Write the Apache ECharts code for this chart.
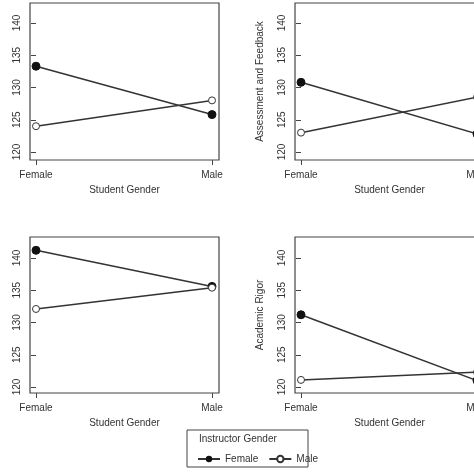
<!DOCTYPE html><html><head><meta charset="utf-8"><script src="https://cdn.jsdelivr.net/npm/echarts@6/dist/echarts.min.js"></script>
<style>html,body{margin:0;padding:0;background:#fff}#c{width:474px;height:474px}</style></head><body><div id="c"></div><script>
const studentGender=['Female','Male'];
const yTicks=[120,125,130,135,140];
const panelTitles=['','Assessment and Feedback','','Academic Rigor'];
const femaleInstr=[[133.3,125.8],[130.8,122.8],[141.2,135.6],[131.2,121.0]];
const maleInstr=[[124.0,128.0],[123.0,128.5],[132.1,135.4],[121.1,122.3]];
const pos=[[30,3,157],[295,3,157],[30,237,156],[295,237,156]];
const grids=[],xAxes=[],yAxes=[],series=[];
const font='Liberation Sans';
pos.forEach((p,i)=>{
 grids.push({left:p[0],top:p[1],width:189,height:p[2],show:true,borderColor:'#444',borderWidth:1.2,backgroundColor:'transparent',outerBoundsMode:'none',containLabel:false});
 const ymin=i<2?118.76:119.07, ymax=i<2?143.1:143.26;
 xAxes.push({gridIndex:i,type:'value',min:-6/176,max:1+7/176,splitLine:{show:false},axisLine:{show:false},
  axisTick:{show:true,length:5,lineStyle:{color:'#444'},customValues:[0,1]},
  axisLabel:{customValues:[0,1],formatter:v=>studentGender[Math.round(v)],fontSize:10,color:'#333',fontFamily:font,margin:10},
  name:'Student Gender',nameLocation:'middle',nameGap:25,nameTextStyle:{fontSize:10,color:'#333',fontFamily:font}});
 yAxes.push({gridIndex:i,type:'value',min:ymin,max:ymax,splitLine:{show:false},axisLine:{show:false},
  axisTick:{show:true,length:5,lineStyle:{color:'#444'},customValues:yTicks},
  axisLabel:{customValues:yTicks,rotate:90,fontSize:10,color:'#333',fontFamily:font,margin:8},
  name:panelTitles[i],nameLocation:'middle',nameGap:30,nameTextStyle:{fontSize:10,color:'#333',fontFamily:font}});
 series.push({name:'Female',type:'line',xAxisIndex:i,yAxisIndex:i,data:femaleInstr[i].map((v,k)=>[k,v]),symbol:'circle',symbolSize:8,
  itemStyle:{color:'#111',borderColor:'#111'},lineStyle:{color:'#333',width:1.5}});
 series.push({name:'Male',type:'line',xAxisIndex:i,yAxisIndex:i,data:maleInstr[i].map((v,k)=>[k,v]),symbol:'circle',symbolSize:7,
  itemStyle:{color:'#fff',borderColor:'#333',borderWidth:1},lineStyle:{color:'#333',width:1.5}});
});
const ch=echarts.init(document.getElementById('c'));
ch.setOption({animation:false,grid:grids,xAxis:xAxes,yAxis:yAxes,series:series,
 legend:{data:['Female','Male'],left:192,top:449,itemWidth:22,itemHeight:8,itemGap:10,textStyle:{fontSize:10,color:'#333',fontFamily:font}},
 graphic:[{type:'rect',shape:{x:187,y:430,width:121,height:37},style:{fill:'none',stroke:'#444',lineWidth:1}},
  {type:'text',left:199,top:434,style:{text:'Instructor Gender',fontSize:10,fill:'#333',fontFamily:font}}]});
</script></body></html>
